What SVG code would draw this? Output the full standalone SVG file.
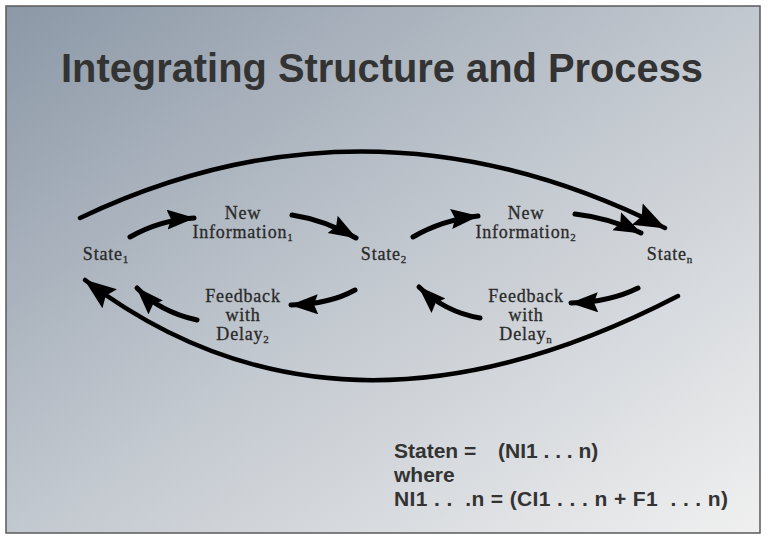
<svg xmlns="http://www.w3.org/2000/svg" width="768" height="542" viewBox="0 0 768 542">
<defs>
<linearGradient id="bg" x1="0" y1="0" x2="1" y2="1">
<stop offset="0" stop-color="#8c98a7"/>
<stop offset="0.5" stop-color="#c2c8cf"/>
<stop offset="1" stop-color="#f0f0f0"/>
</linearGradient>
<marker id="ah" markerUnits="userSpaceOnUse" markerWidth="32" markerHeight="24" refX="27" refY="10" orient="auto">
<path d="M0,0 L28,10 L0,20 L4,10 z" fill="#000"/>
</marker>
<marker id="ahb" markerUnits="userSpaceOnUse" markerWidth="36" markerHeight="28" refX="31" refY="12" orient="auto">
<path d="M0,0 L32,12 L0,24 L5,12 z" fill="#000"/>
</marker>
</defs>
<style>
.lbl{font-family:"Liberation Serif","Times New Roman",serif;font-size:18px;fill:#2a2a2a;stroke:#2a2a2a;stroke-width:0.3;letter-spacing:0.8px;text-anchor:middle}
.sub{font-size:11px}
.sh{fill:none;stroke:#000;stroke-width:5;stroke-linecap:round;marker-end:url(#ah)}
.big{fill:none;stroke:#000;stroke-width:4.5;stroke-linecap:round;marker-end:url(#ahb)}
.f{font-family:"Liberation Sans",Arial,sans-serif;font-weight:bold;font-size:21px;fill:#333;white-space:pre}
</style>
<rect x="6" y="6" width="754" height="527" fill="url(#bg)" stroke="#5a5a5a" stroke-width="1.5"/>
<text x="382" y="82" text-anchor="middle" font-family="'Liberation Sans',Arial,sans-serif" font-weight="bold" font-size="41" fill="#333" textLength="642" lengthAdjust="spacingAndGlyphs">Integrating Structure and Process</text>

<g id="connectors">
<path class="big" d="M80,218 Q370,80 665,228"/>
<path class="big" d="M678,296 Q338,472 85,280"/>
<path class="sh" d="M130,237 Q160,220 194,218"/>
<path class="sh" d="M292,215 Q325,220 356,238"/>
<path class="sh" d="M413,237 Q442,220 478,216"/>
<path class="sh" d="M575,214 Q610,218 641,233"/>
<path class="sh" d="M638,288 Q610,302 571,303"/>
<path class="sh" d="M480,318 Q445,312 419,287"/>
<path class="sh" d="M355,290 Q330,304 291,305"/>
<path class="sh" d="M197,320 Q160,312 137,288"/>
</g>

<g id="state1"><text class="lbl" x="106" y="260">State<tspan class="sub" dy="3">1</tspan></text></g>
<g id="state2"><text class="lbl" x="384" y="260">State<tspan class="sub" dy="3">2</tspan></text></g>
<g id="staten"><text class="lbl" x="670" y="260">State<tspan class="sub" dy="3">n</tspan></text></g>
<g id="newinfo1"><text class="lbl" x="243" y="219">New</text><text class="lbl" x="243" y="238">Information<tspan class="sub" dy="3">1</tspan></text></g>
<g id="newinfo2"><text class="lbl" x="526" y="219">New</text><text class="lbl" x="526" y="238">Information<tspan class="sub" dy="3">2</tspan></text></g>
<g id="feedback2"><text class="lbl" x="243" y="302">Feedback</text><text class="lbl" x="243" y="321">with</text><text class="lbl" x="243" y="340">Delay<tspan class="sub" dy="3">2</tspan></text></g>
<g id="feedbackn"><text class="lbl" x="526" y="302">Feedback</text><text class="lbl" x="526" y="321">with</text><text class="lbl" x="526" y="340">Delay<tspan class="sub" dy="3">n</tspan></text></g>

<g id="formula">
<text class="f" x="394" y="458" xml:space="preserve">Staten =<tspan x="498">(NI1 . . . n)</tspan></text>
<text class="f" x="394" y="482">where</text>
<text class="f" x="394" y="506" xml:space="preserve" textLength="334" lengthAdjust="spacing">NI1 . .  .n = (CI1 . . . n + F1  . . . n)</text>
</g>
</svg>
